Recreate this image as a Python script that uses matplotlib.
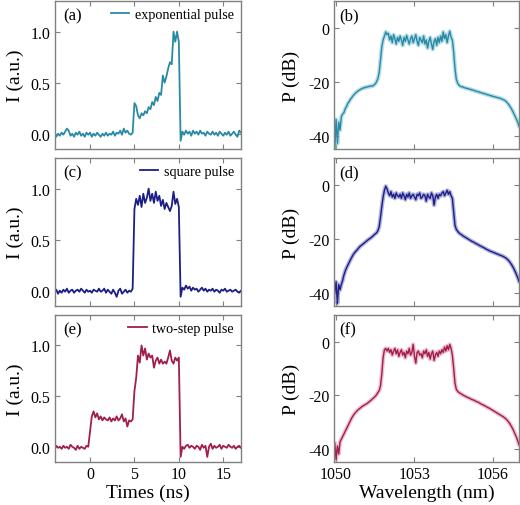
import numpy as np
import matplotlib
matplotlib.use("Agg")
from matplotlib import pyplot as plt

plt.rcParams['font.family'] = ['Liberation Serif', 'DejaVu Serif']
plt.rcParams['axes.unicode_minus'] = False

# time grid of the scope traces (ns), 0.2 ns step
t_ns = np.round(np.arange(-4.0, 17.0001, 0.2), 2)

# (a) exponential pulse
pulse_exp = [
    0.01, -0.03, 0.00, -0.02, 0.01, -0.01, 0.02, 0.05, 0.03, -0.02,
    0.00, -0.03, 0.01, -0.01, 0.02, -0.02, 0.00, -0.03, 0.01, -0.01,
    0.01, -0.03, 0.00, -0.02, 0.01, -0.01, -0.03, 0.00, -0.02, 0.01,
    -0.02, 0.00, -0.01, 0.02, -0.02, 0.01, 0.00, 0.03, -0.01, 0.05,
    0.01, 0.03, 0.00, -0.01, 0.01, 0.30, 0.27, 0.18, 0.15, 0.20,
    0.18, 0.22, 0.20, 0.26, 0.24, 0.31, 0.28, 0.36, 0.32, 0.40,
    0.38, 0.57, 0.50, 0.56, 0.64, 0.70, 0.68, 1.00, 0.90, 1.00,
    0.90, -0.07, 0.02, -0.01, 0.03, 0.00, 0.02, -0.02, 0.03, 0.00,
    0.02, -0.01, 0.03, 0.00, 0.01, -0.02, 0.02, 0.00, -0.01, 0.02,
    -0.01, 0.01, -0.02, 0.02, 0.00, -0.02, 0.01, -0.01, 0.02, -0.02,
    0.00, 0.02, -0.01, -0.03, 0.03, 0.01,
]

# (c) square pulse
pulse_sq = [
    -0.01, 0.01, -0.03, 0.00, -0.02, 0.01, -0.01, 0.02, -0.02, 0.00,
    0.01, -0.02, 0.00, 0.01, -0.01, 0.02, 0.00, -0.02, 0.01, -0.01,
    0.00, -0.02, 0.01, 0.00, -0.01, 0.02, -0.01, 0.00, 0.02, -0.02,
    0.01, -0.01, -0.03, 0.01, -0.02, -0.06, 0.00, 0.02, -0.03, -0.01,
    0.01, -0.02, 0.00, -0.01, 0.02, 0.80, 0.90, 0.84, 0.93, 0.82,
    0.95, 0.86, 0.91, 1.00, 0.88, 0.95, 0.86, 0.97, 0.88, 0.93,
    0.83, 0.89, 0.80, 0.86, 0.82, 0.78, 0.83, 0.97, 0.85, 0.90,
    0.82, -0.06, 0.03, 0.01, 0.05, 0.02, 0.04, 0.00, 0.03, 0.01,
    0.02, -0.01, 0.01, 0.03, 0.00, 0.02, -0.01, 0.01, 0.00, 0.02,
    -0.01, 0.01, 0.00, -0.02, 0.01, 0.00, 0.02, -0.01, 0.00, 0.01,
    -0.01, 0.00, 0.01, -0.01, -0.02, 0.00,
]

# (e) two-step pulse
pulse_2s = [
    0.00, 0.01, -0.01, 0.00, -0.02, 0.01, -0.01, 0.00, -0.02, 0.02,
    0.00, -0.01, -0.03, 0.01, -0.02, 0.00, -0.01, -0.02, 0.01, 0.00,
    0.15, 0.30, 0.35, 0.29, 0.33, 0.27, 0.30, 0.26, 0.29, 0.27,
    0.26, 0.29, 0.25, 0.28, 0.26, 0.30, 0.26, 0.28, 0.32, 0.25,
    0.28, 0.20, 0.26, 0.25, 0.27, 0.55, 0.68, 0.90, 0.83, 1.00,
    0.90, 0.97, 0.86, 0.92, 0.88, 0.90, 0.78, 0.85, 0.88, 0.82,
    0.86, 0.82, 0.84, 0.82, 0.88, 0.95, 0.85, 0.82, 0.88, 0.85,
    0.88, -0.10, 0.00, -0.02, 0.01, 0.02, -0.01, 0.01, 0.00, -0.02,
    0.01, 0.00, -0.03, 0.02, -0.01, 0.01, -0.10, 0.00, 0.03, -0.02,
    0.01, -0.01, 0.00, 0.02, -0.02, 0.01, 0.00, -0.01, 0.02, 0.00,
    -0.01, 0.01, -0.02, 0.00, 0.01, -0.01,
]

# optical spectra, 0.05 nm step
wl_nm = np.round(np.arange(1049.95, 1057.0001, 0.05), 2)

spec_b = [
    -45, -34, -43, -35, -38, -33, -32, -31.5, -30, -29.2,
    -28, -27.4, -26.5, -25.9, -25.2, -24.7, -24.1, -23.8, -23.3, -23.1,
    -22.7, -22.6, -22.2, -22.3, -21.9, -22.0, -21.7, -21.8, -21.5, -21.6,
    -21.2, -20.8, -20.0, -18.8, -16.5, -12.0, -7.0, -4.5, -3.0, -1.5,
    -2.5,
    -2.0, -4.5, -3.0, -5.5, -2.5, -4.0, -6.0, -3.5, -5.0, -3.0,
    -4.5, -6.5, -3.5, -5.0, -2.8, -4.5, -6.0, -4.0, -3.0, -5.5,
    -4.0, -2.5, -5.0, -6.5, -3.5, -4.5, -5.5, -3.0, -6.0, -4.5,
    -7.5, -5.0, -3.5, -6.0, -8.0, -5.0, -4.0, -6.5, -3.5, -5.5,
    -3.0, -5.0, -1.5, -4.0, -2.5, -5.5, -3.0, -1.2, -3.5,
    -4.5, -9.0, -15.0, -19.0, -20.5, -21.3,
    -21.6, -21.9, -21.9, -22.2, -22.3, -22.5, -22.5, -22.8, -22.8, -23.1,
    -23.1, -23.4, -23.4, -23.7, -23.7, -24.0, -24.0, -24.3, -24.3, -24.6,
    -24.6, -24.9, -24.9, -25.2, -25.2, -25.5, -25.5, -25.7, -25.8, -26.0,
    -26.0, -26.3, -26.4, -26.7, -26.9, -27.3, -27.8, -28.4, -29.1, -29.9,
    -30.8, -31.8, -32.8, -33.9, -35.0, -36.5,
]

spec_d = [
    -40, -36, -44, -37, -39, -37, -35.5, -33.5, -32, -30.8,
    -29.8, -28.8, -27.8, -26.9, -26.0, -25.3, -24.7, -24.2, -23.6, -23.0,
    -22.6, -22.2, -21.8, -21.4, -21.0, -20.6, -20.2, -19.9, -19.5, -19.1,
    -18.6, -18.2, -17.8, -17.0, -15.5, -12.0, -8.0, -4.5, -2.0, -0.5,
    -1.5,
    -3.0, -4.0, -2.5, -4.5, -3.5, -5.0, -3.0, -4.0, -4.5, -3.5,
    -5.0, -3.0, -4.0, -5.5, -3.5, -4.5, -3.0, -5.0, -4.0, -3.5,
    -4.5, -5.5, -3.5, -4.0, -3.0, -5.0, -4.5, -3.5, -4.0, -6.0,
    -3.5, -4.5, -5.0, -3.0, -4.0, -7.5, -4.5, -3.5, -5.0, -3.5,
    -4.0, -3.0, -2.5, -4.0, -3.0, -2.0, -3.5, -2.5, -4.0,
    -5.0, -10.0, -15.0, -16.5, -17.2, -17.8,
    -18.2, -18.5, -18.9, -19.2, -19.5, -19.8, -20.1, -20.4, -20.7, -21.0,
    -21.2, -21.5, -21.8, -22.0, -22.3, -22.6, -22.8, -23.1, -23.3, -23.6,
    -23.9, -24.1, -24.4, -24.6, -24.8, -25.0, -25.2, -25.4, -25.6, -25.8,
    -26.0, -26.2, -26.4, -26.6, -26.9, -27.2, -27.6, -28.1, -28.7, -29.4,
    -30.2, -31.1, -32.1, -33.2, -34.4, -35.8,
]

spec_f = [
    -38, -44, -39, -42, -37.5, -36.5, -35.5, -34.5, -33.5, -32.5,
    -31.5, -30.5, -29.5, -28.5, -27.7, -27.0, -26.4, -25.9, -25.4, -25.0,
    -24.6, -24.2, -23.9, -23.6, -23.3, -23.0, -22.6, -22.2, -21.8, -21.3,
    -20.9, -20.4, -19.8, -19.0, -18.3, -16.5, -12.0, -6.0, -3.0, -2.5,
    -3.5,
    -2.5, -4.0, -3.0, -5.0, -3.5, -2.5, -4.5, -3.0, -5.5, -4.0,
    -3.0, -5.0, -4.0, -6.0, -3.5, -4.5, -2.5, -5.0, -4.0, -1.0,
    -5.5, -8.0, -4.0, -3.5, -5.0, -4.5, -6.0, -3.5, -4.5, -3.0,
    -5.5, -4.0, -6.5, -4.5, -3.5, -7.0, -5.0, -4.0, -5.5, -3.5,
    -4.5, -3.0, -4.0, -2.0, -3.5, -1.5, -3.0, -1.0, -2.5,
    -5.0, -10.0, -15.5, -17.8, -18.5, -19.0,
    -19.3, -19.6, -19.9, -20.2, -20.4, -20.7, -20.9, -21.1, -21.4, -21.6,
    -21.8, -22.0, -22.3, -22.5, -22.7, -23.0, -23.3, -23.5, -23.8, -24.0,
    -24.3, -24.6, -24.8, -25.1, -25.4, -25.7, -26.0, -26.3, -26.6, -26.9,
    -27.2, -27.5, -27.8, -28.1, -28.5, -28.9, -29.4, -30.0, -30.7, -31.5,
    -32.4, -33.4, -34.5, -35.7, -37.0, -38.5,
]

pulse_names = ['exponential pulse', 'square pulse', 'two-step pulse']
pulses = [pulse_exp, pulse_sq, pulse_2s]
spectra = [spec_b, spec_d, spec_f]
colors = ['#2a8aa5', '#1c1f86', '#a11f48']
light = ['#7cc3d6', '#6f72c4', '#e08aa8']
tags_left = ['(a)', '(c)', '(e)']
tags_right = ['(b)', '(d)', '(f)']

fig = plt.figure(figsize=(5.2, 5.06), dpi=100)

W, H = 520.0, 506.0
row_px = [(2, 150), (159, 307), (316, 463)]
frame = '#808080'


def style(ax):
    for s in ax.spines.values():
        s.set_color(frame)
        s.set_linewidth(1.0)
    ax.tick_params(direction='in', top=True, right=True, length=3.5,
                   width=0.8, color=frame, labelsize=11.5, pad=3)


for r, (top, bot) in enumerate(row_px):
    h = (bot - top) / H
    y0 = 1 - bot / H
    axl = fig.add_axes([54.5 / W, y0, (241 - 54.5) / W, h])
    axr = fig.add_axes([334 / W, y0, (519 - 334) / W, h])

    axl.plot(t_ns, pulses[r], color=colors[r], lw=1.3, label=pulse_names[r])
    axl.set_xlim(-4, 17)
    axl.set_ylim(-0.15, 1.3)
    axl.set_xticks([0, 5, 10, 15])
    axl.set_yticks([0.0, 0.5, 1.0])
    axl.set_yticklabels(['0.0', '0.5', '1.0'])
    axl.set_ylabel('I (a.u.)', fontsize=14, labelpad=5)
    axl.text(0.045, 0.955, tags_left[r], transform=axl.transAxes,
             fontsize=12, va='top', ha='left')
    axl.legend(loc='upper right', frameon=False, fontsize=10.2,
               handlelength=1.3, handletextpad=0.4, borderaxespad=0.3,
               borderpad=0.2)
    style(axl)

    axr.plot(wl_nm, spectra[r], color=light[r], lw=3.0, alpha=0.55)
    axr.plot(wl_nm, spectra[r], color=colors[r], lw=1.0)
    axr.set_xlim(1049.92, 1057.0)
    axr.set_ylim(-45, 10)
    axr.set_xticks([1050, 1053, 1056])
    axr.set_yticks([0, -20, -40])
    axr.set_ylabel('P (dB)', fontsize=14, labelpad=6)
    axr.text(0.03, 0.955, tags_right[r], transform=axr.transAxes,
             fontsize=12, va='top', ha='left')
    style(axr)

    if r < 2:
        axl.set_xticklabels([])
        axr.set_xticklabels([])
    else:
        axl.set_xlabel('Times (ns)', fontsize=14, labelpad=1)
        axr.set_xlabel('Wavelength (nm)', fontsize=14, labelpad=1)

fig.savefig('out.png', dpi=100)
